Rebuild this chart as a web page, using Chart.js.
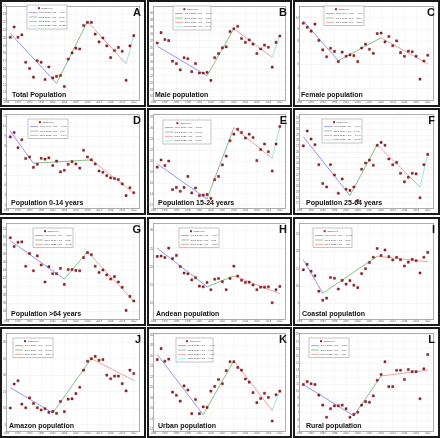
<!DOCTYPE html>
<html>
<head>
<meta charset="utf-8">
<script src="https://cdn.jsdelivr.net/npm/chart.js@4.4.0/dist/chart.umd.min.js"></script>
<style>
html, body { margin: 0; padding: 0; background: #fff; }
#wrap { position: relative; width: 440px; height: 438px; overflow: hidden; }
.panel { position: absolute; border: 2px solid #1a1a1a; box-sizing: border-box; background: #fff; }
.panel canvas { position: absolute; left: 0; top: 0; }
.ttl { position: absolute; font: bold 7px "Liberation Sans", Arial, sans-serif; color: #111; white-space: nowrap; line-height: 8px; }
.tag { position: absolute; font: bold 11px "Liberation Sans", Arial, sans-serif; color: #111; line-height: 11px; }
</style>
</head>
<body>
<div id="wrap"></div>
<script>
/********************* DATA *********************/
const years = [1990, 1991, 1992, 1993, 1994, 1995, 1996, 1997, 1998, 1999, 2000,
               2001, 2002, 2003, 2004, 2005, 2006, 2007, 2008, 2009, 2010, 2011,
               2012, 2013, 2014, 2015, 2016, 2017, 2018, 2019, 2020, 2021, 2022];

// observed rates
const obsTotal   = [20.1, 21.4, 20.1, 20.4, 16.9, 16.1, 15.0, 17.1, 16.9, 14.7, 16.3, 14.9, 15.1, 15.2, 13.8, 17.3, 18.1, 18.7, 18.6, 21.6, 22.0, 22.0, 20.5, 19.5, 20.0, 19.0, 17.5, 18.4, 18.8, 18.3, 14.6, 19.0, 20.3];
const obsMale    = [31.4, 34.4, 32.4, 32.1, 26.2, 25.5, 23.7, 27.2, 26.9, 23.2, 25.5, 22.8, 22.8, 23.0, 20.7, 27.2, 28.4, 30.0, 30.3, 34.7, 35.5, 36.2, 32.7, 31.6, 32.3, 31.1, 28.4, 29.7, 30.8, 30.2, 24.5, 31.6, 33.4];
const obsFemale  = [9.54, 9.19, 8.86, 9.46, 8.08, 7.27, 6.68, 7.41, 7.14, 6.27, 7.08, 6.73, 6.84, 6.78, 6.27, 7.43, 7.76, 7.32, 6.97, 8.65, 8.70, 7.95, 8.41, 7.62, 8.03, 7.03, 6.73, 7.16, 7.11, 6.73, 4.78, 6.32, 6.81];
const obs0to14   = [8.94, 9.39, 7.84, 8.65, 6.74, 6.90, 5.84, 6.16, 6.77, 6.68, 6.81, 6.03, 6.48, 5.39, 5.55, 6.16, 6.42, 6.19, 5.77, 7.58, 6.90, 6.61, 6.19, 5.48, 5.35, 5.00, 4.77, 4.71, 4.61, 4.16, 2.97, 3.77, 3.26];
const obs15to24  = [18.9, 20.2, 19.2, 20.0, 14.8, 15.2, 14.5, 15.2, 17.2, 14.2, 15.1, 13.7, 13.8, 13.9, 13.2, 16.6, 17.2, 19.3, 20.9, 23.7, 24.9, 25.8, 25.2, 24.2, 24.9, 24.3, 20.1, 22.1, 23.1, 21.7, 18.2, 23.1, 26.3];
const obs25to64  = [27.1, 29.7, 28.3, 27.3, 23.8, 20.5, 19.9, 23.8, 22.0, 18.8, 21.3, 19.5, 19.3, 19.9, 17.5, 23.0, 24.1, 24.6, 23.7, 27.2, 27.7, 27.2, 24.8, 23.8, 24.2, 22.3, 20.8, 21.6, 22.3, 22.2, 18.0, 23.8, 25.6];
const obsOver64  = [51.9, 49.8, 50.8, 50.9, 45.0, 48.1, 43.9, 47.5, 45.3, 41.2, 44.9, 43.2, 43.2, 44.5, 40.6, 44.2, 44.2, 44.0, 43.9, 47.1, 48.3, 47.8, 45.0, 43.5, 44.1, 42.9, 41.9, 42.5, 41.2, 39.9, 34.3, 37.7, 36.6];
const obsAndean  = [22.9, 23.0, 22.6, 25.2, 22.3, 23.2, 20.1, 18.3, 18.1, 16.4, 17.0, 14.7, 14.5, 15.7, 13.7, 16.6, 16.8, 15.9, 13.7, 16.8, 20.2, 17.5, 16.3, 15.7, 15.8, 15.0, 13.7, 14.4, 14.4, 14.5, 10.1, 13.7, 14.6];
const obsCoastal = [14.7, 16.3, 14.3, 13.0, 8.6, 6.0, 6.6, 12.5, 12.3, 9.2, 11.7, 10.6, 11.6, 10.3, 9.6, 13.6, 15.0, 16.8, 18.3, 20.8, 18.8, 20.4, 18.5, 17.5, 18.3, 17.6, 15.8, 16.9, 17.7, 17.3, 13.8, 18.3, 19.7];
const obsAmazon  = [10.1, 17.4, 18.4, 11.3, 10.2, 13.2, 11.5, 10.2, 9.5, 9.9, 8.8, 9.1, 8.5, 12.1, 9.0, 12.8, 12.9, 14.5, 16.4, 21.6, 24.3, 25.1, 25.8, 24.6, 24.8, 20.1, 19.0, 19.8, 19.8, 17.5, 15.3, 21.6, 20.6];
const obsUrban   = [25.3, 27.4, 25.0, 25.4, 19.1, 18.5, 17.4, 20.3, 19.5, 15.0, 17.7, 15.0, 16.3, 16.2, 19.3, 20.2, 21.5, 20.7, 23.2, 24.9, 24.9, 23.8, 23.3, 21.6, 21.0, 19.0, 17.1, 17.9, 18.9, 18.1, 13.6, 18.6, 19.3];
const obsRural   = [11.0, 11.4, 11.1, 11.0, 9.5, 8.1, 6.4, 7.6, 8.0, 8.0, 8.1, 7.6, 6.4, 6.8, 7.1, 8.1, 8.6, 8.5, 9.4, 11.6, 12.4, 14.2, 10.7, 10.7, 13.0, 13.0, 11.7, 13.1, 12.8, 12.8, 9.0, 13.2, 15.2];

// joinpoints (years) and modelled values at them
const jpTotal   = [1990, 2002, 2010, 2020, 2022]; const fitTotal   = [20.6, 14.2, 22.1, 16.7, 20.3];
const jpMale    = [1990, 2003, 2010, 2020, 2022]; const fitMale    = [30.5, 22.0, 35.5, 27.3, 33.6];
const jpFemale  = [1990, 1999, 2010, 2022];       const fitFemale  = [9.73, 6.35, 8.30, 6.08];
const jp0to14   = [1990, 1996, 2011, 2022];       const fit0to14   = [9.52, 6.26, 6.61, 3.23];
const jp15to24  = [1990, 2003, 2010, 2020, 2022]; const fit15to24  = [19.5, 13.1, 26.1, 20.5, 26.3];
const jp25to64  = [1990, 2002, 2009, 2020, 2022]; const fit25to64  = [28.7, 18.4, 27.3, 19.9, 25.6];
const jpOver64  = [1990, 2004, 2010, 2022];       const fitOver64  = [51.2, 41.9, 48.5, 36.5];
const jpAndean  = [1990, 2003, 2010, 2022];       const fitAndean  = [25.2, 14.5, 17.5, 12.6];
const jpCoastal = [1990, 1995, 2009, 2022];       const fitCoastal = [17.6, 8.0, 18.6, 17.0];
const jpAmazon  = [1990, 2001, 2011, 2022];       const fitAmazon  = [16.3, 8.6, 25.1, 18.5];
const jpUrban   = [1990, 2002, 2010, 2020, 2022]; const fitUrban   = [26.3, 14.8, 25.1, 15.6, 19.4];
const jpRural   = [1990, 2003, 2010, 2022];       const fitRural   = [11.0, 6.6, 12.2, 13.0];

// legend texts
const apcTotal   = ['1990-2002 APC = -3.09*', '2002-2010 APC = 5.63*', '2010-2020 APC = -2.79*', '2020-2022 APC = 11.25*'];
const apcMale    = ['1990-2003 APC = -2.09*', '2003-2010 APC = 7.35*', '2010-2020 APC = -2.75*', '2020-2022 APC = 11.46'];
const apcFemale  = ['1990-1999 APC = -4.09*', '1999-2010 APC = 2.29*', '2010-2022 APC = -2.26*'];
const apc0to14   = ['1990-1996 APC = -7.45*', '1996-2011 APC = 0.36', '2011-2022 APC = -6.71*'];
const apc15to24  = ['1990-2003 APC = -2.87*', '2003-2010 APC = 10.07*', '2010-2020 APC = -2.33*', '2020-2022 APC = 13.17*'];
const apc25to64  = ['1990-2002 APC = -3.40*', '2002-2009 APC = 5.43*', '2009-2020 APC = -2.44*', '2020-2022 APC = 13.45*'];
const apcOver64  = ['1990-2004 APC = -1.50*', '2004-2010 APC = 2.72*', '2010-2022 APC = -2.42*'];
const apcAndean  = ['1990-2003 APC = -4.09*', '2003-2010 APC = 2.72', '2010-2022 APC = -2.18*'];
const apcCoastal = ['1990-1995 APC = -10.67*', '1995-2009 APC = 5.73*', '2009-2022 APC = -0.56'];
const apcAmazon  = ['1990-2001 APC = -5.99*', '2001-2011 APC = 10.67*', '2011-2022 APC = -2.51*'];
const apcUrban   = ['1990-2002 APC = -4.43*', '2002-2010 APC = 6.89*', '2010-2020 APC = -4.60*', '2020-2022 APC = 9.29'];
const apcRural   = ['1990-2003 APC = -3.83*', '2003-2010 APC = 8.09*', '2010-2022 APC = 0.65'];

/********************* LAYOUT *********************/
const colX = [0, 147, 293];
const colW = [146, 145, 147];
const rowY = [0, 108, 217, 327];
const rowH = [107, 107, 109, 111];
const segColors = ['#8a8aee', '#78b878', '#f09494', '#8fe3e3'];

const panels = [
  { tag: 'A', title: 'Total Population',      obs: obsTotal,   jp: jpTotal,   fit: fitTotal,   apc: apcTotal,   yMin: 12,   yMax: 24.04, step: 1, lg: [25, 3, 40],  tx: 10 },
  { tag: 'B', title: 'Male population',       obs: obsMale,    jp: jpMale,    fit: fitMale,    apc: apcMale,    yMin: 14.9, yMax: 41.9,  step: 2, lg: [24, 4, 38],  tx: 6 },
  { tag: 'C', title: 'Female population',     obs: obsFemale,  jp: jpFemale,  fit: fitFemale,  apc: apcFemale,  yMin: 2.95, yMax: 10.97, step: 1, lg: [29, 4, 40],  tx: 6 },
  { tag: 'D', title: 'Population 0-14 years', obs: obs0to14,   jp: jp0to14,   fit: fit0to14,   apc: apc0to14,   yMin: 1.65, yMax: 11.23, step: 1, lg: [26, 9, 40],  tx: 9 },
  { tag: 'E', title: 'Population 15-24 years',obs: obs15to24,  jp: jp15to24,  fit: fit15to24,  apc: apc15to24,  yMin: 11.34,yMax: 28.5,  step: 1, lg: [14, 10, 48], tx: 9 },
  { tag: 'F', title: 'Population 25-64 years',obs: obs25to64,  jp: jp25to64,  fit: fit25to64,  apc: apc25to64,  yMin: 16.11,yMax: 32.61, step: 1, lg: [27, 9, 40],  tx: 11 },
  { tag: 'G', title: 'Population >64 years',  obs: obsOver64,  jp: jpOver64,  fit: fitOver64,  apc: apcOver64,  yMin: 32.08,yMax: 55.38, step: 2, lg: [31, 9, 40],  tx: 9 },
  { tag: 'H', title: 'Andean population',     obs: obsAndean,  jp: jpAndean,  fit: fitAndean,  apc: apcAndean,  yMin: 5.44, yMax: 32.02, step: 5, lg: [30, 9, 40],  tx: 7 },
  { tag: 'I', title: 'Coastal population',    obs: obsCoastal, jp: jpCoastal, fit: fitCoastal, apc: apcCoastal, yMin: 0.45, yMax: 28.0,  step: 5, lg: [18, 9, 39],  tx: 7 },
  { tag: 'J', title: 'Amazon population',     obs: obsAmazon,  jp: jpAmazon,  fit: fitAmazon,  apc: apcAmazon,  yMin: 2.95, yMax: 32.77, step: 5, lg: [11, 9, 40],  tx: 7 },
  { tag: 'K', title: 'Urban population',      obs: obsUrban,   jp: jpUrban,   fit: fitUrban,   apc: apcUrban,   yMin: 11.58,yMax: 30.3,  step: 1, lg: [27, 9, 37],  tx: 9 },
  { tag: 'L', title: 'Rural population',      obs: obsRural,   jp: jpRural,   fit: fitRural,   apc: apcRural,   yMin: 4.38, yMax: 18.18, step: 1, lg: [14, 9, 40],  tx: 11 }
];

/********************* PLUGIN: frame + inner legend *********************/
const panelDecor = {
  id: 'panelDecor',
  afterDraw(chart, args, opts) {
    const ctx = chart.ctx;
    const a = chart.chartArea;
    ctx.save();
    ctx.strokeStyle = '#9a9a9a';
    ctx.lineWidth = 0.8;
    ctx.strokeRect(a.left, a.top, a.right - a.left, a.bottom - a.top);

    // legend box
    const [lx, ly, lw] = opts.box;
    const rowH = 4.4;
    const sets = chart.data.datasets;
    const lh = sets.length * rowH + 2;
    ctx.fillStyle = '#fff';
    ctx.fillRect(lx, ly, lw, lh);
    ctx.strokeStyle = '#8a8a8a';
    ctx.lineWidth = 0.5;
    ctx.strokeRect(lx, ly, lw, lh);
    ctx.font = '2.5px "Liberation Sans", Arial, sans-serif';
    ctx.textBaseline = 'middle';
    sets.forEach((ds, i) => {
      const cy = ly + 1 + rowH * (i + 0.5);
      if (i === 0) {
        ctx.fillStyle = ds.backgroundColor;
        ctx.fillRect(lx + lw * 0.3 - 1, cy - 1, 2, 2);
        ctx.fillStyle = '#444';
        ctx.fillText(ds.label, lx + lw * 0.3 + 2.5, cy);
      } else {
        ctx.strokeStyle = ds.borderColor;
        ctx.lineWidth = 0.8;
        ctx.beginPath();
        ctx.moveTo(lx + 2, cy);
        ctx.lineTo(lx + 10, cy);
        ctx.stroke();
        ctx.fillStyle = '#444';
        ctx.fillText(ds.label, lx + 11.5, cy);
      }
    });
    ctx.restore();
  }
};

/********************* DRAW PANELS *********************/
function drawPanel(p, idx) {
  const col = idx % 3, row = Math.floor(idx / 3);
  const w = colW[col], h = rowH[row];

  const div = document.createElement('div');
  div.className = 'panel';
  div.style.left = colX[col] + 'px';
  div.style.top = rowY[row] + 'px';
  div.style.width = w + 'px';
  div.style.height = h + 'px';
  document.getElementById('wrap').appendChild(div);

  const canvas = document.createElement('canvas');
  canvas.width = w - 4;
  canvas.height = h - 4;
  canvas.style.width = (w - 4) + 'px';
  canvas.style.height = (h - 4) + 'px';
  div.appendChild(canvas);

  const ttl = document.createElement('div');
  ttl.className = 'ttl';
  ttl.textContent = p.title;
  ttl.style.left = p.tx + 'px';
  ttl.style.top = (h - 18) + 'px';
  div.appendChild(ttl);

  const tag = document.createElement('div');
  tag.className = 'tag';
  tag.textContent = p.tag;
  tag.style.right = '3px';
  tag.style.top = '5px';
  div.appendChild(tag);

  const datasets = [{
    label: 'Observed',
    data: years.map((yr, k) => ({ x: yr, y: p.obs[k] })),
    showLine: false,
    pointStyle: 'rect',
    pointRadius: 1.5,
    backgroundColor: '#a81e26',
    borderColor: '#5e0c10',
    borderWidth: 0.4
  }];
  for (let s = 0; s < p.jp.length - 1; s++) {
    datasets.push({
      label: p.apc[s],
      data: [{ x: p.jp[s], y: p.fit[s] }, { x: p.jp[s + 1], y: p.fit[s + 1] }],
      borderColor: segColors[s],
      borderWidth: 0.9,
      pointRadius: 0,
      fill: false
    });
  }

  const tickFont = { size: 2.6, family: '"Liberation Sans", Arial, sans-serif' };
  new Chart(canvas.getContext('2d'), {
    type: 'line',
    data: { datasets: datasets },
    options: {
      responsive: false,
      animation: false,
      devicePixelRatio: 1,
      layout: { padding: { top: 1, right: 1, left: 0, bottom: 0 } },
      plugins: {
        legend: { display: false },
        tooltip: { enabled: false },
        panelDecor: { box: p.lg }
      },
      scales: {
        x: {
          type: 'linear', min: 1989, max: 2023.5,
          afterFit: (s) => { s.height = 4; },
          ticks: { stepSize: 3, includeBounds: false, autoSkip: false, maxRotation: 0, padding: 0.5,
                   font: tickFont, color: '#555', callback: (v) => String(v) },
          grid: { color: '#ececec', lineWidth: 0.5, drawTicks: false },
          border: { display: false }
        },
        y: {
          min: p.yMin, max: p.yMax,
          afterFit: (s) => { s.width = 4; },
          ticks: { stepSize: p.step, includeBounds: false, padding: 0.5, font: tickFont, color: '#555' },
          grid: { color: '#ececec', lineWidth: 0.5, drawTicks: false },
          border: { display: false }
        }
      }
    },
    plugins: [panelDecor]
  });
}

panels.forEach(drawPanel);
</script>
</body>
</html>
